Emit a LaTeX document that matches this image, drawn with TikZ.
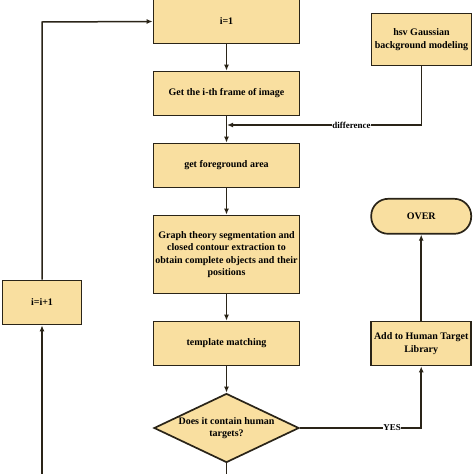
\documentclass[tikz,border=0pt]{standalone}
\usepackage{fontspec}
\setmainfont{Liberation Serif}
\usepackage{xcolor}
\usetikzlibrary{shapes,arrows.meta,positioning}

\definecolor{boxfill}{HTML}{F9DFA0}
\definecolor{boxline}{HTML}{2A2418}

\begin{document}
\begin{tikzpicture}[x=1pt, y=-1pt,
        node distance=26.3pt and 70pt,
        block/.style={rectangle, draw=boxline, fill=boxfill, line width=1.7pt, minimum width=146pt, minimum height=44pt, align=center, inner sep=2pt, font=\fontsize{10}{12.3}\selectfont\bfseries},
        sideblock/.style={block, minimum width=100pt},
        terminal/.style={sideblock, rounded corners=17pt, minimum height=35pt},
        decision/.style={diamond, draw=boxline, fill=boxfill, line width=1.7pt, aspect=2.1, inner sep=-6pt, minimum width=145pt, minimum height=69pt, align=center, font=\fontsize{10}{12.3}\selectfont\bfseries},
        arrowstyle/.style={-{Latex[length=6pt,width=5pt]}, line width=1.5pt, draw=boxline},
        lbl/.style={fill=white, inner sep=0.5pt, font=\fontsize{9}{10}\selectfont\bfseries}
    ]
        \useasboundingbox (0,0) rectangle (474,474);

        \node[block] (init) at (226.5,21.5) {i=1};
        \node[block, below=of init] (frame) {Get the i-th frame of image};
        \node[block, below=of frame] (fground) {get foreground area};
        \node[block, below=of fground, minimum height=78pt] (segment) {Graph theory segmentation and\\closed contour extraction to\\obtain complete objects and their\\positions};
        \node[block, below=of segment] (match) {template matching};
        \node[decision, below=of match] (human) {Does it contain human\\targets?};

        \node[sideblock, minimum height=52pt] (hsv) at (421.5,39.5) {hsv Gaussian\\background modeling};
        \node[sideblock, right=of match] (library) {Add to Human Target\\Library};
        \node[terminal, above=86pt of library] (over) {OVER};
        \node[block, minimum width=79pt] (incr) at (42,302.5) {i=i+1};

        \coordinate (diffin) at (227,125);
        \coordinate (loopbl) at (42,500);
        \coordinate (looptl) at (42,22);

        \draw[arrowstyle] (init) -- (frame);
        \draw[arrowstyle] (frame) -- (fground);
        \draw[arrowstyle] (fground) -- (segment);
        \draw[arrowstyle] (segment) -- (match);
        \draw[arrowstyle] (match) -- (human);
        \draw[arrowstyle] (hsv.south) |- node[lbl, pos=0.68]{difference} (diffin);
        \draw[arrowstyle] (human.east) -| node[lbl, pos=0.38]{YES} (library.south);
        \draw[arrowstyle] (library) -- (over);
        \draw[arrowstyle] (human.south) |- (loopbl) -- (incr.south);
        \draw[arrowstyle] (incr.north) |- (looptl) -- (init.west);
    \end{tikzpicture}
\end{document}
